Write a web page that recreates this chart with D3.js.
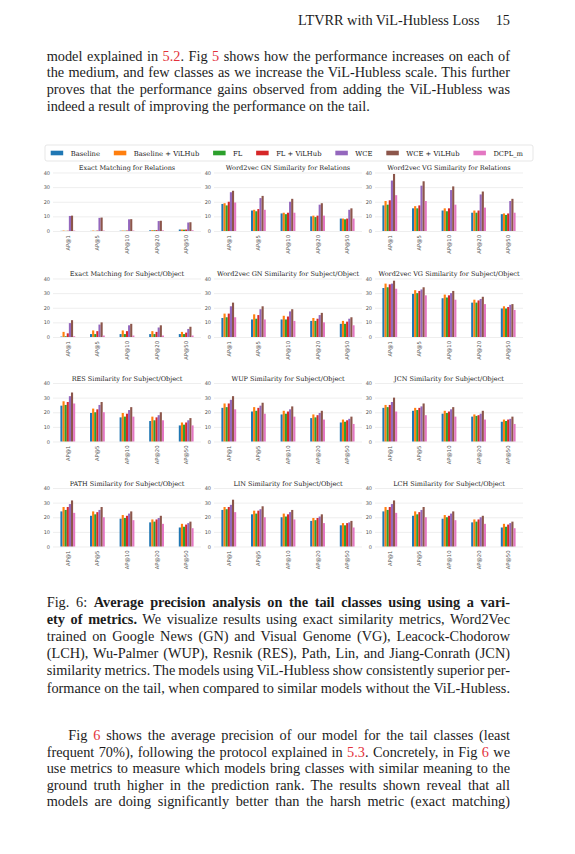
<!DOCTYPE html>
<html><head><meta charset="utf-8">
<script src="https://cdn.jsdelivr.net/npm/d3@7"></script>
<style>
body{margin:0;background:#fff;}
#page{position:relative;width:575px;height:854px;overflow:hidden;background:#fff;font-family:"Liberation Serif","Times New Roman",serif;color:#1c1c1c;}
.ln{position:absolute;white-space:nowrap;font-size:14.3px;line-height:16px;}
.ln span.in{display:inline-block;white-space:nowrap;}
.r{color:#e3323b;}
.b{font-weight:bold;}
svg{position:absolute;left:0;top:0;}
</style></head><body><div id="page"><svg id="chart" width="575" height="854"></svg></div>
<script>
// ---------- data ----------
const categories = ["AP@1","AP@5","AP@10","AP@20","AP@50"];
const seriesNames = ["Baseline","Baseline + ViLHub","FL","FL + ViLHub","WCE","WCE + ViLHub","DCPL_m"];
const seriesColors = ["#1f77b4","#ff7f0e","#2ca02c","#d62728","#9467bd","#8c564b","#e377c2"];
const panelTitles = [
  "Exact Matching for Relations","Word2vec GN Similarity for Relations","Word2vec VG Similarity for Relations",
  "Exact Matching for Subject/Object","Word2vec GN Similarity for Subject/Object","Word2vec VG Similarity for Subject/Object",
  "RES Similarity for Subject/Object","WUP Similarity for Subject/Object","JCN Similarity for Subject/Object",
  "PATH Similarity for Subject/Object","LIN Similarity for Subject/Object","LCH Similarity for Subject/Object"
];
const yTicks = [0,10,20,30,40];
// rows = series (same order as seriesNames), columns = categories
const exactRel = [[0.1,0.1,0.2,0.5,1.0],[0.3,0.3,0.3,0.6,1.0],[0.1,0.1,0.2,0.5,0.9],[0.2,0.3,0.3,0.6,1.0],[10.3,9.0,8.0,6.8,5.8],[10.5,9.2,8.1,7.0,6.0],[0.3,0.3,0.3,0.4,0.5]];
const gnRel = [[18.5,14,12,10,8.5],[19,14.5,12.5,10.5,8.5],[17.5,13.5,11.5,9.5,8],[20,15,12.5,10.5,8.5],[26.5,22.5,20,18,14.5],[27.5,24,22,19,15.5],[19.5,14.5,12.5,10.5,8.5]];
const vgRel = [[17.5,15.5,14,12.5,11.5],[20.5,17,15.5,14,12],[18,15.5,13.5,12.5,11],[21,17.5,15.5,14,12],[34.5,31,28,25,20.5],[39,34,30.5,27,22],[24.5,20.5,18,16,12.5]];
const exactSO = [[0.3,2,2,2,2],[3.5,4.5,4.5,4,3.5],[0.5,2,2,2,2],[2.5,4,4,3.5,3],[9.5,8.5,8,6.5,5.5],[11.5,10,9,8,7],[0.5,1,1,1,1]];
const gnSO = [[13,12,12,11,9],[16,15.5,14.5,13,11],[13.5,12.5,12,11,9],[16,15,14,12.5,10.5],[21,19,17.5,15,12.5],[23.5,21,19,16.5,13.5],[13.5,12,11,10,8]];
const vgSO = [[33.5,29.5,26.5,23.5,19.5],[36.5,32,29,25.5,21],[34,30,27,23.5,19.5],[36,31.5,28.5,25,20.5],[36.5,32.5,30,26,22],[38.5,34,31.5,27.5,22.5],[33,28.5,25.5,22.5,18.5]];
const resSO = [[24.5,19.5,16.5,14,11],[27.5,22.5,19.5,17,13],[25,20,17,14.5,11.5],[27,22,19,16.5,13],[31,25,21.5,18,14.5],[33.5,27,23.5,20,16],[26,20,17,14.5,11]];
const wupSO = [[23,20.5,18.5,16,13],[26,23.5,21,18.5,15],[23.5,21,19,16.5,13.5],[26,23,20.5,18,14.5],[28.5,24.5,22,19.5,15.5],[31,26.5,24,21,17],[22,19,17,15,12]];
const jcnSO = [[23,21,19,17,13.5],[25,23,21,18.5,15],[23.5,21.5,19.5,17.5,14],[25,23,20.5,18,15],[27,24,22,19,15.5],[30,26,23.5,21,17],[20.5,18,17,15,12]];
const pathSO = [[24,21,19,16.5,13],[27,24,21.5,18.5,15.5],[25,22,19.5,17,13.5],[27,23.5,21,18.5,15],[29,25,22.5,19.5,16],[31.5,27,24,21,17],[23,20,18,15.5,12.5]];
const linSO = [[25,22,20,17.5,14.5],[27,24.5,22.5,19.5,16],[25.5,22.5,20.5,18,14.5],[27,24.5,22,19.5,16],[28.5,25.5,23.5,20.5,16.5],[32,27.5,25,22,17.5],[23.5,20,18.5,16,13]];
const lchSO = [[24,21,19,16.5,13],[27,24,21.5,18.5,15.5],[25,22,20,17,13.5],[27,23.5,21,18.5,15],[29,25,22.5,20,16],[31.5,27,24,21,17],[23,20,18,15.5,12.5]];
const panels = [exactRel,gnRel,vgRel,exactSO,gnSO,vgSO,resSO,wupSO,jcnSO,pathSO,linSO,lchSO];

// ---------- chart ----------
const svg = d3.select("#chart");
const colX = [53,214,375], W = 148;
const rowY0 = [231,337,441.5,546.5], H = 58.5;

panels.forEach((data,i)=>{
  const r = Math.floor(i/3), c = i%3;
  const x = d3.scaleBand().domain(categories).range([colX[c], colX[c]+W]).padding(0);
  const y = d3.scaleLinear().domain([0,40]).range([rowY0[r], rowY0[r]-H]);
  const inner = d3.scaleBand().domain(seriesNames).range([x.bandwidth()*0.25, x.bandwidth()*0.75]);
  const g = svg.append("g");
  const ax = g.append("g").attr("transform",`translate(${colX[c]},0)`)
    .call(d3.axisLeft(y).tickValues(yTicks).tickSize(-W).tickPadding(3).tickFormat(d3.format("d")));
  ax.select(".domain").remove();
  ax.selectAll(".tick line").attr("stroke","#e6e6e6").attr("stroke-width",0.7);
  ax.selectAll(".tick text").attr("font-family","DejaVu Sans, sans-serif").attr("font-size",5).attr("fill","#555");
  seriesNames.forEach((s,si)=>{
    g.append("g").selectAll("rect").data(data[si]).join("rect")
      .attr("x",(d,j)=>x(categories[j])+inner(s))
      .attr("width",inner.bandwidth())
      .attr("y",d=>y(d)).attr("height",d=>y(0)-y(d))
      .attr("fill",seriesColors[si]);
  });
  g.append("g").selectAll("text").data(categories).join("text")
    .attr("transform",d=>`translate(${x(d)+x.bandwidth()/2},${rowY0[r]+4}) rotate(-90)`)
    .attr("text-anchor","end").attr("dominant-baseline","central")
    .attr("font-family","DejaVu Sans, sans-serif").attr("font-size",5.3).attr("fill","#555")
    .text(d=>d);
  g.append("text").attr("x",colX[c]+W/2).attr("y",rowY0[r]-H-2.5)
    .attr("text-anchor","middle").attr("font-family","DejaVu Serif, serif").attr("font-size",6.5).attr("fill","#222")
    .text(panelTitles[i]);
});

// legend
const lg = svg.append("g");
lg.append("rect").attr("x",45).attr("y",145).attr("width",488).attr("height",16).attr("rx",2)
  .attr("fill","#fff").attr("stroke","#dcdcdc").attr("stroke-width",0.7);
const items = seriesNames.map((s,i)=>{
  const gi = lg.append("g");
  gi.append("rect").attr("width",12.5).attr("height",4.6).attr("y",150.7).attr("fill",seriesColors[i]);
  const t = gi.append("text").attr("x",20).attr("y",155.5).attr("font-family","DejaVu Serif, serif")
    .attr("font-size",6.8).attr("fill","#222").text(s);
  return {g:gi, w:20+t.node().getComputedTextLength()};
});
const lStart = 50.7, lEnd = 523;
const gap = (lEnd-lStart-d3.sum(items,d=>d.w))/(items.length-1);
let cx = lStart;
items.forEach(it=>{ it.g.attr("transform",`translate(${cx},0)`); cx += it.w+gap; });

// ---------- text ----------
const page = d3.select("#page");
const L = 46.7, R = 510;
const textLines = [
  {y:21.7, x:298, just:false, parts:[["LTVRR with ViL-Hubless Loss"]]},
  {y:21.7, right:true, parts:[["15"]]},
  {y:57.3, parts:[["model explained in "],["5.2","r"],[". Fig "],["5","r"],[" shows how the performance increases on each of"]]},
  {y:74.0, parts:[["the medium, and few classes as we increase the ViL-Hubless scale. This further"]]},
  {y:90.7, parts:[["proves that the performance gains observed from adding the ViL-Hubless was"]]},
  {y:107.3, just:false, parts:[["indeed a result of improving the performance on the tail."]]},
  {y:603.3, parts:[["Fig. 6: "],["Average precision analysis on the tail classes using using a vari-","b"]]},
  {y:620.6, parts:[["ety of metrics.","b"],[" We visualize results using exact similarity metrics, Word2Vec"]]},
  {y:637.8, parts:[["trained on Google News (GN) and Visual Genome (VG), Leacock-Chodorow"]]},
  {y:655.0, parts:[["(LCH), Wu-Palmer (WUP), Resnik (RES), Path, Lin, and Jiang-Conrath (JCN)"]]},
  {y:672.2, parts:[["similarity metrics. The models using ViL-Hubless show consistently superior per-"]]},
  {y:689.3, parts:[["formance on the tail, when compared to similar models without the ViL-Hubless."]]},
  {y:736.7, indent:21.6, parts:[["Fig "],["6","r"],[" shows the average precision of our model for the tail classes (least"]]},
  {y:753.3, parts:[["frequent 70%), following the protocol explained in "],["5.3","r"],[". Concretely, in Fig "],["6","r"],[" we"]]},
  {y:770.0, parts:[["use metrics to measure which models bring classes with similar meaning to the"]]},
  {y:786.7, parts:[["ground truth higher in the prediction rank. The results shown reveal that all"]]},
  {y:803.0, parts:[["models are doing significantly better than the harsh metric (exact matching)"]]}
];
textLines.forEach(l=>{
  const div = page.append("div").attr("class","ln").style("top",(l.y-9.8)+"px");
  const inner = div.append("span").attr("class","in");
  l.parts.forEach(p=>inner.append("span").attr("class",p[1]||null).text(p[0]));
  const natural = inner.node().getBoundingClientRect().width;
  if(l.right){ div.style("left",(R-natural)+"px"); return; }
  const x0 = l.x!==undefined ? l.x : L + (l.indent||0);
  div.style("left",x0+"px");
  if(l.just===false) return;
  const txt = l.parts.map(p=>p[0]).join("");
  const spaces = (txt.match(/ /g)||[]).length;
  const ws = (R-x0-natural)/spaces;
  inner.style("word-spacing",ws+"px");
});
</script></body></html>
